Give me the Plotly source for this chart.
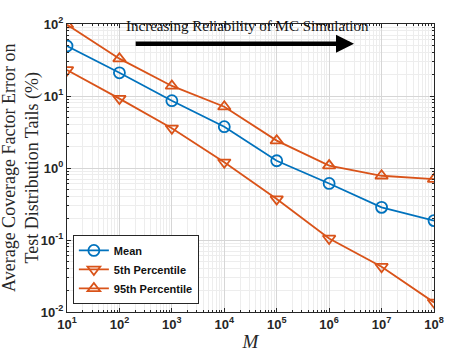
import plotly.graph_objects as go

M = [1e1, 1e2, 1e3, 1e4, 1e5, 1e6, 1e7, 1e8]
mean_err = [49.5, 21.0, 8.6, 3.75, 1.26, 0.61, 0.284, 0.186]
p5_err = [23.0, 9.2, 3.56, 1.2, 0.37, 0.105, 0.0426, 0.0136]
p95_err = [98.0, 33.0, 13.8, 7.1, 2.4, 1.08, 0.78, 0.70]

x_tickvals = [1e1, 1e2, 1e3, 1e4, 1e5, 1e6, 1e7, 1e8]
x_ticktext = ["10<sup>1</sup>", "10<sup>2</sup>", "10<sup>3</sup>", "10<sup>4</sup>",
              "10<sup>5</sup>", "10<sup>6</sup>", "10<sup>7</sup>", "10<sup>8</sup>"]
y_tickvals = [1e-2, 1e-1, 1e0, 1e1, 1e2]
y_ticktext = ["10<sup>-2</sup>", "10<sup>-1</sup>", "10<sup>0</sup>", "10<sup>1</sup>", "10<sup>2</sup>"]

x_minor = [m * 10 ** k for k in range(1, 8) for m in range(2, 10)]
y_minor = [m * 10.0 ** k for k in range(-2, 2) for m in range(2, 10)]

blue = "#0072BD"
orange = "#D95319"

fig = go.Figure()
fig.add_trace(go.Scatter(x=M, y=mean_err, name="Mean", mode="lines+markers",
                         line=dict(color=blue, width=1.8),
                         marker=dict(symbol="circle-open", size=11, color=blue, line=dict(width=1.8))))
fig.add_trace(go.Scatter(x=M, y=p5_err, name="5th Percentile", mode="lines+markers",
                         line=dict(color=orange, width=1.8),
                         marker=dict(symbol="triangle-down-open", size=11, color=orange, line=dict(width=1.8))))
fig.add_trace(go.Scatter(x=M, y=p95_err, name="95th Percentile", mode="lines+markers",
                         line=dict(color=orange, width=1.8),
                         marker=dict(symbol="triangle-up-open", size=11, color=orange, line=dict(width=1.8))))

axis_common = dict(
    type="log", showline=True, linecolor="#262626", linewidth=1, mirror="ticks",
    ticks="inside", ticklen=4, tickcolor="#262626", automargin=False,
    showgrid=True, gridcolor="#d6d6d6", gridwidth=1, zeroline=False,
    tickfont=dict(family="Liberation Sans, Arial", size=13, color="#262626", weight="bold"),
)

fig.update_xaxes(**axis_common, range=[1, 8], tickvals=x_tickvals, ticktext=x_ticktext,
                 minor=dict(tickvals=x_minor, showgrid=True, gridcolor="#ededed", gridwidth=1,
                            ticks="inside", ticklen=2, tickcolor="#262626"),
                 title=dict(text="<i>M</i>", font=dict(family="Liberation Serif, Times New Roman", size=19, color="#262626"),
                            standoff=4))
fig.update_yaxes(**axis_common, range=[-2, 2], tickvals=y_tickvals, ticktext=y_ticktext,
                 minor=dict(tickvals=y_minor, showgrid=True, gridcolor="#ededed", gridwidth=1,
                            ticks="inside", ticklen=2, tickcolor="#262626"))

fig.add_annotation(x=0, y=0.5, xref="paper", yref="paper", xshift=-46, xanchor="center", yanchor="middle",
                   textangle=-90, showarrow=False,
                   text="Average Coverage Factor Error on<br>Test Distribution Tails (%)",
                   font=dict(family="Liberation Serif, Times New Roman", size=18, color="#262626"))

fig.add_annotation(x=0.493, y=0.993, xref="x domain", yref="y domain", xanchor="center", yanchor="middle",
                   text="Increasing Reliability of MC Simulation", showarrow=False,
                   font=dict(family="Liberation Serif, Times New Roman", size=15, color="#111"))
fig.add_annotation(x=0.782, y=0.931, ax=0.183, ay=0.931, xref="x domain", yref="y domain",
                   axref="x domain", ayref="y domain",
                   text="", showarrow=True, arrowhead=2, arrowsize=0.8, arrowwidth=4.5, arrowcolor="black")

fig.update_layout(
    width=474, height=355,
    margin=dict(l=67, r=40, t=24, b=43),
    plot_bgcolor="white", paper_bgcolor="white",
    legend=dict(x=0.016, y=0.028, xanchor="left", yanchor="bottom",
                bgcolor="white", bordercolor="#262626", borderwidth=1,
                font=dict(family="Liberation Sans, Arial", size=11, color="#111", weight="bold"),
                tracegroupgap=0),
    showlegend=True,
)

fig.write_html("out.html", config={"displayModeBar": False},
               post_script="document.body.style.margin='0';document.body.style.overflow='hidden';")
